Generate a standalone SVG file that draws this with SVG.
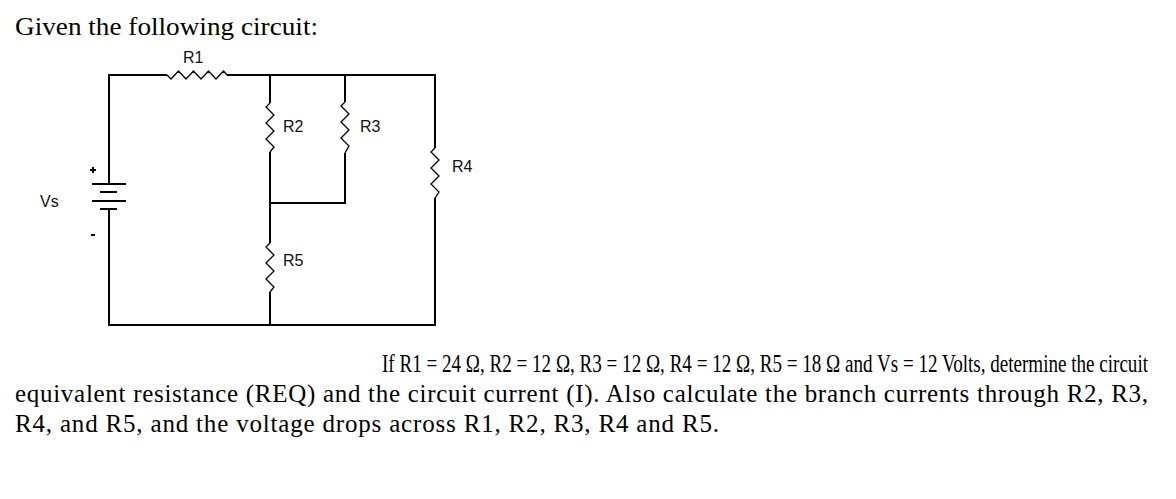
<svg xmlns="http://www.w3.org/2000/svg" width="1176" height="499" viewBox="0 0 1176 499">
<style>
.w{fill:none;stroke:#000;stroke-width:2}
.z{fill:none;stroke:#000;stroke-width:1.3}
.l{font-family:"Liberation Sans",Arial,sans-serif;font-size:16px;fill:#111}
.t{font-family:"Liberation Serif","Times New Roman",serif;font-size:25px;fill:#000}
</style>
<rect width="1176" height="499" fill="#fff"/>
<text class="t" x="15" y="35" textLength="303" lengthAdjust="spacingAndGlyphs">Given the following circuit:</text>
<g id="connectors">
<path class="w" d="M109,184 V75 H167 M227,75 H435 V148 M435,198 V325 H109 V209"/>
<path class="w" d="M270,75 V103 M270,152 V243 M270,292 V325 M345,75 V102 M345,153 V203 H270"/>
</g>
<g id="R1"><path class="z" d="M167,75 l4,4 l7.5,-8 l7.5,8 l7.5,-8 l7.5,8 l7.5,-8 l7.5,8 l7.5,-8 l3.5,4"/><text class="l" x="183" y="63">R1</text></g>
<g id="R2"><path class="z" d="M270,103 l-4,4 l8,8 l-8,8 l8,8 l-8,8 l8,8 l-4,5"/><text class="l" x="283" y="132">R2</text></g>
<g id="R3"><path class="z" d="M345,102 l-4,4 l8,8 l-8,8 l8,8 l-8,8 l8,8 l-4,7"/><text class="l" x="360" y="132">R3</text></g>
<g id="R4"><path class="z" d="M435,148 l-4,4 l8,8 l-8,8 l8,8 l-8,8 l8,8 l-4,6"/><text class="l" x="452" y="172">R4</text></g>
<g id="R5"><path class="z" d="M270,243 l-4,4 l8,8 l-8,8 l8,8 l-8,8 l8,8 l-4,5"/><text class="l" x="283" y="266">R5</text></g>
<g id="Vs">
<path class="w" d="M92,184 H126 M100,192 H117 M92,201 H126 M100,209 H117"/>
<path class="w" d="M90,170 h6 M93,167 v6 M91,235 h4"/>
<text class="l" x="40" y="207">Vs</text>
</g>
<text class="t" x="382" y="372" textLength="766" lengthAdjust="spacingAndGlyphs">If R1 = 24 Ω, R2 = 12 Ω, R3 = 12 Ω, R4 = 12 Ω, R5 = 18 Ω and Vs = 12 Volts, determine the circuit</text>
<text class="t" x="15" y="402" textLength="1133" lengthAdjust="spacing">equivalent resistance (REQ) and the circuit current (I). Also calculate the branch currents through R2, R3,</text>
<text class="t" x="15" y="432" textLength="704" lengthAdjust="spacing">R4, and R5, and the voltage drops across R1, R2, R3, R4 and R5.</text>
</svg>
